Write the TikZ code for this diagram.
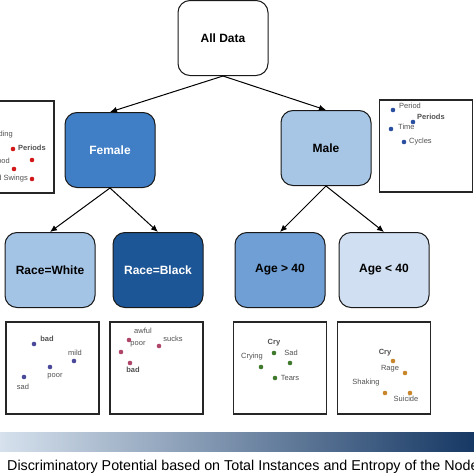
\documentclass[tikz,border=0pt]{standalone}
\usepackage{fontspec}
\setmainfont{Liberation Sans}
\usetikzlibrary{arrows.meta}
\definecolor{femalefill}{RGB}{64,127,198}
\definecolor{malefill}{RGB}{167,198,230}
\definecolor{racewfill}{RGB}{164,196,230}
\definecolor{racebfill}{RGB}{29,86,150}
\definecolor{agehifill}{RGB}{111,159,213}
\definecolor{agelofill}{RGB}{208,224,242}
\definecolor{wordgray}{RGB}{80,80,80}
\definecolor{reddot}{RGB}{210,24,24}
\definecolor{bluedot}{RGB}{42,79,160}
\definecolor{purpledot}{RGB}{75,74,154}
\definecolor{rosedot}{RGB}{176,69,106}
\definecolor{greendot}{RGB}{63,122,44}
\definecolor{orangedot}{RGB}{201,134,42}
\definecolor{barlight}{RGB}{214,225,237}
\definecolor{bardark}{RGB}{22,56,100}

\begin{document}
\begin{tikzpicture}[x=1pt,y=-1pt,
    treebox/.style={draw=black!90,line width=1pt,rounded corners=12pt,
      minimum width=90pt,minimum height=75pt,font=\fontsize{12}{14}\selectfont\bfseries},
    wordbox/.style={draw=black!85,line width=1.1pt,minimum width=93pt,minimum height=92pt},
    dotmark/.style={circle,fill=#1,inner sep=0pt,minimum size=4.6pt},
    word/.style={text=wordgray,inner sep=0pt,font=\fontsize{7.5}{9}\selectfont},
    treearrow/.style={-{Latex[length=7pt,width=6pt]},line width=1pt}]
  \clip (0,0) rectangle (474,474);

  % tree
  \node[treebox,fill=white] (alldata) at (223,38) {All Data};
  \node[treebox,fill=femalefill,text=white] (female) at (110,150) {Female};
  \node[treebox,fill=malefill] (male) at (326,148) {Male};
  \node[treebox,fill=racewfill] (racew) at (50,270) {Race=White};
  \node[treebox,fill=racebfill,text=white] (raceb) at (158,270) {Race=Black};
  \node[treebox,fill=agehifill] (agehi) at (280,270) {Age > 40};
  \node[treebox,fill=agelofill] (agelo) at (384,270) {Age < 40};

  \draw[treearrow] (alldata.south) -- (female.north);
  \draw[treearrow] (alldata.south) -- (male.north);
  \draw[treearrow] (female.south) -- (racew.north);
  \draw[treearrow] (female.south) -- (raceb.north);
  \draw[treearrow] (male.south) -- (agehi.north);
  \draw[treearrow] (male.south) -- (agelo.north);

  % word clusters
  \node[wordbox,minimum width=94pt] (wbfemale) at (7,147) {};
  \node[wordbox] (wbmale) at (426,146) {};
  \node[wordbox] (wbracew) at (52.5,368) {};
  \node[wordbox] (wbraceb) at (156.5,368) {};
  \node[wordbox] (wbagehi) at (280,368) {};
  \node[wordbox] (wbagelo) at (384,368) {};

  \foreach \x/\y [count=\k] in {13/149,32/160,14/169,32/179}
    \node[dotmark=reddot] (fd\k) at (\x,\y) {};
  \foreach \x/\y/\a/\w [count=\k] in {13/135/east/Bleeding,18/148/west/{\bfseries Periods},
      10/161/east/Blood,28/179/east/{Mood Swings}}
    \node[word,anchor=\a] (fw\k) at (\x,\y) {\w};

  \foreach \x/\y [count=\k] in {393/110,413/122,391/129,404/142}
    \node[dotmark=bluedot] (md\k) at (\x,\y) {};
  \foreach \x/\y/\w [count=\k] in {399/106/Period,417/117/{\bfseries Periods},
      398/127/Time,409/142/Cycles}
    \node[word,anchor=west] (mw\k) at (\x,\y) {\w};

  \foreach \x/\y [count=\k] in {34/344,74/361,50/367,24/377}
    \node[dotmark=purpledot] (wd\k) at (\x,\y) {};
  \foreach \x/\y/\w [count=\k] in {47/339/{\bfseries bad},75/353/mild,55/376/poor,23/387/sad}
    \node[word] (ww\k) at (\x,\y) {\w};

  \foreach \x/\y [count=\k] in {129/340,121/352,159/346,130/363}
    \node[dotmark=rosedot] (bd\k) at (\x,\y) {};
  \foreach \x/\y/\w [count=\k] in {143/331/awful,138/344/poor,173/339/sucks,133/370/{\bfseries bad}}
    \node[word] (bw\k) at (\x,\y) {\w};

  \foreach \x/\y [count=\k] in {274/353,261/367,290/363,275/378}
    \node[dotmark=greendot] (od\k) at (\x,\y) {};
  \foreach \x/\y/\w [count=\k] in {274/343/{\bfseries Cry},252/357/Crying,291/353/Sad,290/378/Tears}
    \node[word] (ow\k) at (\x,\y) {\w};

  \foreach \x/\y [count=\k] in {393/361,405/373,385/393,410/393}
    \node[dotmark=orangedot] (yd\k) at (\x,\y) {};
  \foreach \x/\y/\w [count=\k] in {385/353/{\bfseries Cry},390/369/Rage,366/383/Shaking,406/399/Suicide}
    \node[word] (yw\k) at (\x,\y) {\w};

  % scale bar
  \shade[left color=barlight,right color=bardark] (0,432) rectangle (474,451);
  \node[anchor=west,inner sep=0pt,font=\fontsize{14.3}{16}\selectfont] (caption) at (7,467)
    {Discriminatory Potential based on Total Instances and Entropy of the Node};
\end{tikzpicture}
\end{document}
